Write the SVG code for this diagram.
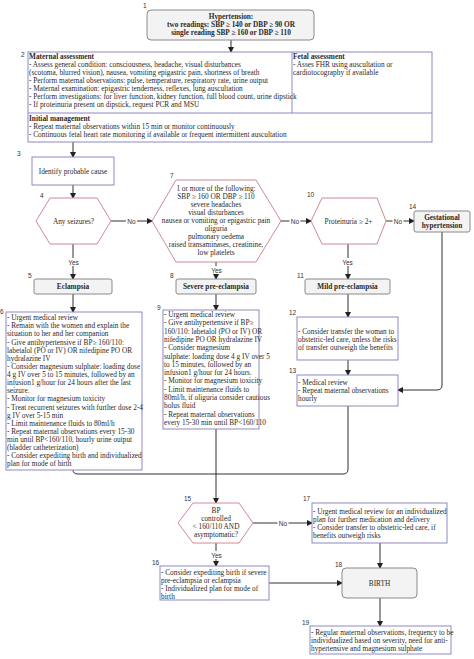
<svg xmlns="http://www.w3.org/2000/svg" width="474" height="659" viewBox="0 0 474 659">
<style>
.t{font-family:"Liberation Serif","Times New Roman",serif;font-size:7.3px;fill:#2a2a2a}
.b{font-weight:bold}
.c{text-anchor:middle}
.n{font-family:"Liberation Sans",Arial,sans-serif;font-size:6.5px;fill:#333}
.box{fill:#fff;stroke:#8e89c4;stroke-width:1}
.rbox{fill:#f3f3f3;stroke:#8a8a8a;stroke-width:1}
.hex{fill:#fff;stroke:#cf8a92;stroke-width:1}
.ln{fill:none;stroke:#333;stroke-width:1}
.lbl{font-family:"Liberation Sans",Arial,sans-serif;font-size:6.5px;fill:#333;text-anchor:middle}
</style>
<defs>
<marker id="ah" markerWidth="6" markerHeight="6" refX="5" refY="3" orient="auto" markerUnits="userSpaceOnUse">
<path d="M0,0 L6,3 L0,6 Z" fill="#222"/>
</marker>
</defs>
<rect width="474" height="659" fill="#fff"/>

<g id="connectors">
<path class="ln" d="M231,40 V52" marker-end="url(#ah)"/>
<path class="ln" d="M73,142 V157" marker-end="url(#ah)"/>
<path class="ln" d="M73,185 V198" marker-end="url(#ah)"/>
<path class="ln" d="M111,221 H152" marker-end="url(#ah)"/>
<rect x="126" y="217" width="11" height="8" fill="#fff"/><text class="lbl" x="131.5" y="223.5">No</text>
<path class="ln" d="M73,244 V279" marker-end="url(#ah)"/>
<rect x="67" y="258" width="13" height="8" fill="#fff"/><text class="lbl" x="73.5" y="264.5">Yes</text>
<path class="ln" d="M73,294 V312" marker-end="url(#ah)"/>
<path class="ln" d="M216,262 V279" marker-end="url(#ah)"/>
<rect x="210" y="266" width="13" height="8" fill="#fff"/><text class="lbl" x="216.5" y="272.5">Yes</text>
<path class="ln" d="M216,294 V310" marker-end="url(#ah)"/>
<path class="ln" d="M281,221 H311" marker-end="url(#ah)"/>
<rect x="289.5" y="217" width="11" height="8" fill="#fff"/><text class="lbl" x="295" y="223.5">No</text>
<path class="ln" d="M386,221 H414" marker-end="url(#ah)"/>
<rect x="392.5" y="217" width="11" height="8" fill="#fff"/><text class="lbl" x="398" y="223.5">No</text>
<path class="ln" d="M348,244 V279" marker-end="url(#ah)"/>
<rect x="341" y="258" width="13" height="8" fill="#fff"/><text class="lbl" x="347.5" y="264.5">Yes</text>
<path class="ln" d="M348,294 V317" marker-end="url(#ah)"/>
<path class="ln" d="M348,360 V375" marker-end="url(#ah)"/>
<path class="ln" d="M442,232 V385 Q442,390 437,390 H398" marker-end="url(#ah)"/>
<path class="ln" d="M73,470 Q73,474 78,474 H343 Q348,474 348,469 V406"/>
<path class="ln" d="M216,429 V503" marker-end="url(#ah)"/>
<path class="ln" d="M253,523 H312" marker-end="url(#ah)"/>
<rect x="277.5" y="519" width="11" height="8" fill="#fff"/><text class="lbl" x="283" y="525.5">No</text>
<path class="ln" d="M216,543 V566" marker-end="url(#ah)"/>
<rect x="210" y="551" width="13" height="8" fill="#fff"/><text class="lbl" x="216.5" y="557.5">Yes</text>
<path class="ln" d="M380,543 V568" marker-end="url(#ah)"/>
<path class="ln" d="M269,583 H342" marker-end="url(#ah)"/>
<path class="ln" d="M380,598 V626" marker-end="url(#ah)"/>
</g>

<g id="node1">
<text class="n" x="143" y="8">1</text>
<rect class="rbox" x="147" y="10" width="167" height="30" rx="4"/>
<text class="t b c" x="231" y="19">Hypertension:</text>
<text class="t b c" x="231" y="27">two readings: SBP ≥ 140 or DBP ≥ 90 OR</text>
<text class="t b c" x="231" y="35">single reading SBP ≥ 160 or DBP ≥ 110</text>
</g>

<g id="node2">
<text class="n" x="21" y="57">2</text>
<rect class="box" x="28" y="52" width="404" height="90"/>
<line x1="292" y1="52" x2="292" y2="113" stroke="#8e89c4"/>
<line x1="28" y1="113" x2="432" y2="113" stroke="#8e89c4"/>
<text class="t b" x="29" y="59">Maternal assessment</text>
<text class="t" x="29" y="67">- Assess general condition: consciousness, headache, visual disturbances</text>
<text class="t" x="29" y="75">(scotoma, blurred vision), nausea, vomiting epigastric pain, shortness of breath</text>
<text class="t" x="29" y="83">- Perform maternal observations: pulse, temperature, respiratory rate, urine output</text>
<text class="t" x="29" y="91">- Maternal examination: epigastric tenderness, reflexes, lung auscultation</text>
<text class="t" x="29" y="99">- Perform investigations: for liver function, kidney function, full blood count, urine dipstick</text>
<text class="t" x="29" y="107">- If proteinuria present on dipstick, request PCR and MSU</text>
<text class="t b" x="293" y="59">Fetal assessment</text>
<text class="t" x="293" y="67">- Asses FHR using auscultation or</text>
<text class="t" x="293" y="75">cardiotocography if available</text>
<text class="t b" x="29" y="121">Initial management</text>
<text class="t" x="29" y="129">- Repeat maternal observations within 15 min or monitor continuously</text>
<text class="t" x="29" y="137">- Continuous fetal heart rate monitoring if available or frequent intermittent auscultation</text>
</g>

<g id="node3">
<text class="n" x="17" y="156">3</text>
<rect class="box" x="32" y="157" width="82" height="28"/>
<text class="t c" x="73" y="174">Identify probable cause</text>
</g>

<g id="node4">
<text class="n" x="40" y="198">4</text>
<polygon class="hex" points="36,221 50,198 97,198 111,221 97,244 50,244"/>
<text class="t c" x="73.5" y="223.5">Any seizures?</text>
</g>

<g id="node5">
<text class="n" x="28" y="278">5</text>
<rect class="rbox" x="34" y="279" width="78" height="15" rx="2"/>
<text class="t b c" x="73" y="289">Eclampsia</text>
</g>

<g id="node6">
<text class="n" x="0" y="314">6</text>
<rect class="box" x="6" y="312" width="136" height="158"/>
<text class="t" x="7" y="320">- Urgent medical review</text>
<text class="t" x="7" y="328">- Remain with the women and explain the</text>
<text class="t" x="7" y="336">situation to her and her companion</text>
<text class="t" x="7" y="344.5">- Give antihypertensive if BP≥ 160/110:</text>
<text class="t" x="7" y="352.5">labetalol (PO or IV) OR nifedipine PO OR</text>
<text class="t" x="7" y="360.5">hydralazine IV</text>
<text class="t" x="7" y="369">-  Consider magnesium sulphate: loading dose</text>
<text class="t" x="7" y="377">4 g IV over 5 to 15 minutes, followed by an</text>
<text class="t" x="7" y="385">infusion1 g/hour for 24 hours after the last</text>
<text class="t" x="7" y="393">seizure.</text>
<text class="t" x="7" y="401">- Monitor for magnesium toxicity</text>
<text class="t" x="7" y="409.5">- Treat recurrent seizures with further dose 2-4</text>
<text class="t" x="7" y="417.5">g IV over 5-15 min</text>
<text class="t" x="7" y="425.5">- Limit maintenance fluids to 80ml/h</text>
<text class="t" x="7" y="434">- Repeat maternal observations every 15-30</text>
<text class="t" x="7" y="442">min until BP&lt;160/110, hourly urine output</text>
<text class="t" x="7" y="450">(bladder catheterization)</text>
<text class="t" x="7" y="458">- Consider expediting birth and individualized</text>
<text class="t" x="7" y="466">plan for mode of birth</text>
</g>

<g id="node7">
<text class="n" x="170" y="178">7</text>
<polygon class="hex" points="152,221 176,180 256,180 281,221 256,262 176,262"/>
<text class="t c" x="216" y="191">1 or more of the following:</text>
<text class="t c" x="216" y="199">SBP ≥ 160 OR DBP ≥ 110</text>
<text class="t c" x="216" y="207">severe headaches</text>
<text class="t c" x="216" y="215">visual disturbances</text>
<text class="t c" x="216" y="223">nausea or vomiting or epigastric pain</text>
<text class="t c" x="216" y="231">oliguria</text>
<text class="t c" x="216" y="239">pulmonary oedema</text>
<text class="t c" x="216" y="247">raised transaminases, creatinine,</text>
<text class="t c" x="216" y="255">low platelets</text>
</g>

<g id="node8">
<text class="n" x="170" y="278">8</text>
<rect class="rbox" x="176" y="279" width="80" height="15" rx="2"/>
<text class="t b c" x="216" y="289">Severe pre-eclampsia</text>
</g>

<g id="node9">
<text class="n" x="157" y="310">9</text>
<rect class="box" x="163" y="310" width="96" height="119"/>
<text class="t" x="164" y="317">- Urgent medical review</text>
<text class="t" x="164" y="325.3">- Give antihypertensive if BP≥</text>
<text class="t" x="164" y="333.6">160/110: labetalol (PO or IV) OR</text>
<text class="t" x="164" y="341.9">nifedipine PO OR hydralazine IV</text>
<text class="t" x="164" y="350.2">- Consider magnesium</text>
<text class="t" x="164" y="358.5">sulphate: loading dose 4 g IV over 5</text>
<text class="t" x="164" y="366.8">to 15 minutes, followed by an</text>
<text class="t" x="164" y="375.1">infusion1 g/hour for 24 hours.</text>
<text class="t" x="164" y="383.4">- Monitor for magnesium toxicity</text>
<text class="t" x="164" y="391.7">- Limit maintenance fluids to</text>
<text class="t" x="164" y="400">80ml/h, if oliguria consider cautious</text>
<text class="t" x="164" y="408.3">bolus fluid</text>
<text class="t" x="164" y="416.6">- Repeat maternal observations</text>
<text class="t" x="164" y="424.9">every 15-30 min until BP&lt;160/110</text>
</g>

<g id="node10">
<text class="n" x="307" y="197">10</text>
<polygon class="hex" points="311,221 322,198 377,198 386,221 377,244 322,244"/>
<text class="t c" x="348.5" y="223.5">Proteinuria ≥ 2+</text>
</g>

<g id="node11">
<text class="n" x="297" y="278">11</text>
<rect class="rbox" x="305" y="279" width="85" height="15" rx="2"/>
<text class="t b c" x="347.5" y="289">Mild pre-eclampsia</text>
</g>

<g id="node12">
<text class="n" x="289" y="315">12</text>
<rect class="box" x="297" y="317" width="101" height="43"/>
<text class="t" x="298" y="334">- Consider transfer the woman to</text>
<text class="t" x="298" y="342">obstetric-led care, unless the risks</text>
<text class="t" x="298" y="350">of transfer outweigh the benefits</text>
</g>

<g id="node13">
<text class="n" x="289" y="373">13</text>
<rect class="box" x="297" y="375" width="101" height="31"/>
<text class="t" x="298" y="385">- Medical review</text>
<text class="t" x="298" y="393">- Repeat maternal observations</text>
<text class="t" x="298" y="401">hourly</text>
</g>

<g id="node14">
<text class="n" x="409" y="209">14</text>
<rect class="rbox" x="414" y="211" width="56" height="21" rx="2"/>
<text class="t b c" x="442" y="220">Gestational</text>
<text class="t b c" x="442" y="228">hypertension</text>
</g>

<g id="node15">
<text class="n" x="184" y="501">15</text>
<polygon class="hex" points="178,523 193,503 239,503 253,523 239,543 193,543"/>
<text class="t c" x="216" y="513">BP</text>
<text class="t c" x="216" y="521">controlled</text>
<text class="t c" x="216" y="529">&lt; 160/110 AND</text>
<text class="t c" x="216" y="537">asymptomatic?</text>
</g>

<g id="node16">
<text class="n" x="152" y="565">16</text>
<rect class="box" x="160" y="566" width="109" height="34"/>
<text class="t" x="161" y="574.5">- Consider expediting birth if severe</text>
<text class="t" x="161" y="582.5">pre-eclampsia or eclampsia</text>
<text class="t" x="161" y="590.5">- Individualized plan for mode of</text>
<text class="t" x="161" y="598.5">birth</text>
</g>

<g id="node17">
<text class="n" x="303" y="501">17</text>
<rect class="box" x="312" y="503" width="135" height="40"/>
<text class="t" x="313" y="514">- Urgent medical review for an individualized</text>
<text class="t" x="313" y="522">plan for further medication and delivery</text>
<text class="t" x="313" y="530">- Consider transfer to obstetric-led care, if</text>
<text class="t" x="313" y="538">benefits outweigh risks</text>
</g>

<g id="node18">
<text class="n" x="335" y="567">18</text>
<rect class="rbox" x="342" y="568" width="75" height="30" rx="4"/>
<text class="t c" x="379.5" y="586">BIRTH</text>
</g>

<g id="node19">
<text class="n" x="302" y="625">19</text>
<rect class="box" x="310" y="626" width="141" height="28"/>
<text class="t" x="311" y="635">- Regular maternal observations, frequency to be</text>
<text class="t" x="311" y="643">individualized based on severity, need for anti-</text>
<text class="t" x="311" y="651">hypertensive and magnesium sulphate</text>
</g>
</svg>
